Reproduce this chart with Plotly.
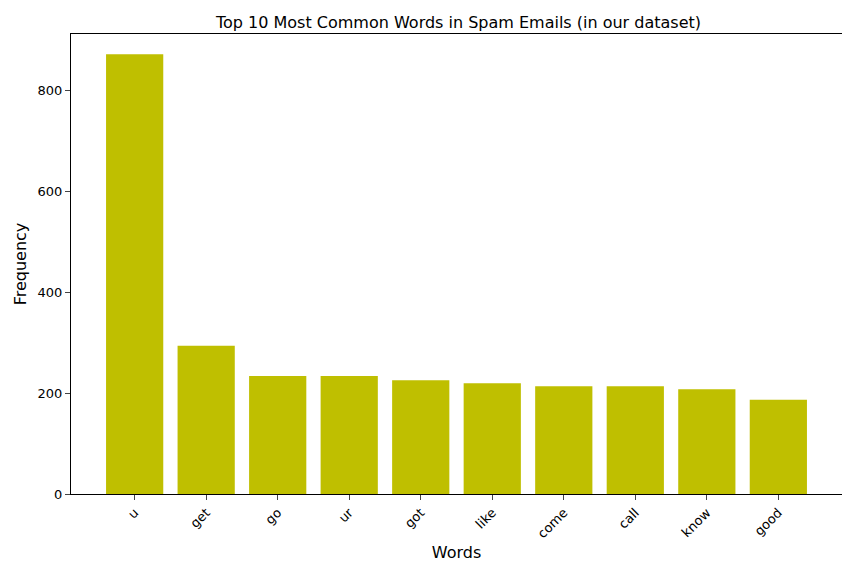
import plotly.graph_objects as go

words = ["u", "get", "go", "ur", "got", "like", "come", "call", "know", "good"]
counts = [873, 294, 234, 234, 226, 220, 214, 214, 208, 187]

fig = go.Figure(
    go.Bar(x=list(range(len(words))), y=counts, width=0.8, marker_color="#bfbf00",
           marker_line_width=0)
)

fig.update_layout(
    width=850, height=570,
    paper_bgcolor="white", plot_bgcolor="white",
    margin=dict(l=57, r=16, t=26, b=84),
    font=dict(family="DejaVu Sans", size=13, color="black"),
    title=dict(text="Top 10 Most Common Words in Spam Emails (in our dataset)",
               x=0.53, xanchor="center", y=0.985, yanchor="top", font=dict(size=16)),
    showlegend=False,
)
fig.update_xaxes(
    tickmode="array", tickvals=list(range(len(words))), ticktext=words,
    tickangle=-45, range=[-0.89, 9.89], showline=True, mirror=True,
    linecolor="black", ticks="outside", showgrid=False, zeroline=False,
    title=dict(text="Words", standoff=6),
)
fig.update_yaxes(
    range=[0, 913], tickvals=[0, 200, 400, 600, 800], showline=True, mirror=True,
    linecolor="black", ticks="outside", showgrid=False, zeroline=False,
    title=dict(text="Frequency", standoff=6),
)

fig.write_html("out.html")
